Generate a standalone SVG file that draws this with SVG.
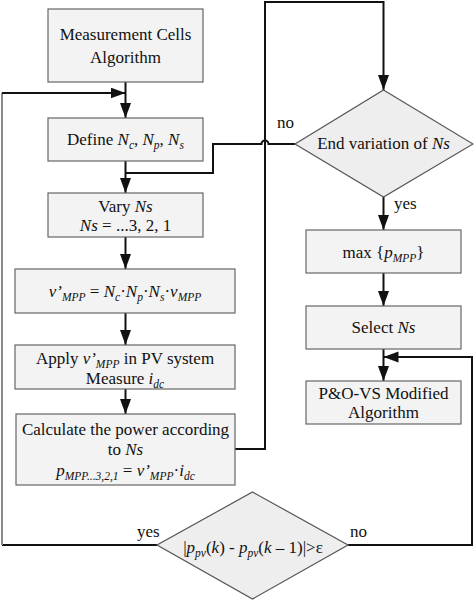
<svg xmlns="http://www.w3.org/2000/svg" width="474" height="602" viewBox="0 0 474 602">
<style>
.box{fill:#f3f3f3;stroke:#666;stroke-width:1.2}
.dia{fill:#eeeeee;stroke:#555;stroke-width:1.2}
text{font-family:"Liberation Serif","Times New Roman",serif;font-size:17px;fill:#111}
.c{text-anchor:middle}
.i{font-style:italic}
.s{font-size:11.5px;font-style:italic}
.ln{fill:none;stroke:#111;stroke-width:2}
.lg{fill:none;stroke:#8a8a8a;stroke-width:2}
</style>
<defs>
<marker id="ar" markerUnits="userSpaceOnUse" markerWidth="16" markerHeight="12" refX="15" refY="5.5" orient="auto">
<path d="M0,0 L15,5.5 L0,11 Z" fill="#111"/>
</marker>
</defs>
<rect width="474" height="602" fill="#fff"/>
<g id="connectors">
<path class="ln" d="M125.5,82 V118" marker-end="url(#ar)"/>
<path class="ln" d="M157,545 H2"/>
<path class="lg" d="M2,545 V93"/>
<path class="ln" d="M2,93 H125.5" marker-end="url(#ar)"/>
<path class="ln" d="M125.5,161 V193" marker-end="url(#ar)"/>
<path class="ln" d="M295,144 H268.5 A3.5,3.5 0 0 0 261.5,144 H213 V173 H125.5"/>
<path class="ln" d="M125.5,237 V269" marker-end="url(#ar)"/>
<path class="ln" d="M125.5,313 V345" marker-end="url(#ar)"/>
<path class="ln" d="M125.5,389 V414" marker-end="url(#ar)"/>
<path class="ln" d="M235,449 H265 V2 H383.5 V90" marker-end="url(#ar)"/>
<path class="ln" d="M383.5,197 V230" marker-end="url(#ar)"/>
<path class="ln" d="M383.5,273 V306" marker-end="url(#ar)"/>
<path class="ln" d="M383.5,349 V381" marker-end="url(#ar)"/>
<path class="ln" d="M348,545 H472 V357 H383.5" marker-end="url(#ar)"/>
</g>
<g id="labels">
<text x="277" y="128">no</text>
<text x="394" y="209">yes</text>
<text x="137" y="537">yes</text>
<text x="350" y="537">no</text>
</g>
<g id="n1">
<rect class="box" x="48" y="9" width="155" height="73"/>
<text class="c" x="125.5" y="40">Measurement Cells</text>
<text class="c" x="125.5" y="63">Algorithm</text>
</g>
<g id="n2">
<rect class="box" x="48" y="118" width="155" height="43"/>
<text class="c" x="125.5" y="145">Define <tspan class="i">N</tspan><tspan class="s" dy="4">c</tspan><tspan dy="-4">, </tspan><tspan class="i">N</tspan><tspan class="s" dy="4">p</tspan><tspan dy="-4">, </tspan><tspan class="i">N</tspan><tspan class="s" dy="4">s</tspan></text>
</g>
<g id="n3">
<rect class="box" x="48" y="193" width="155" height="44"/>
<text class="c" x="125.5" y="212">Vary <tspan class="i">Ns</tspan></text>
<text class="c" x="125.5" y="231"><tspan class="i">Ns</tspan> = ...3, 2, 1</text>
</g>
<g id="n4">
<rect class="box" x="15" y="269" width="220" height="44"/>
<text class="c" x="125" y="297"><tspan class="i">v’</tspan><tspan class="s" dy="4">MPP</tspan><tspan dy="-4"> = </tspan><tspan class="i">N</tspan><tspan class="s" dy="4">c</tspan><tspan dy="-4">·</tspan><tspan class="i">N</tspan><tspan class="s" dy="4">p</tspan><tspan dy="-4">·</tspan><tspan class="i">N</tspan><tspan class="s" dy="4">s</tspan><tspan dy="-4">·</tspan><tspan class="i">v</tspan><tspan class="s" dy="4">MPP</tspan></text>
</g>
<g id="n5">
<rect class="box" x="15" y="345" width="220" height="44"/>
<text class="c" x="125" y="364">Apply <tspan class="i">v’</tspan><tspan class="s" dy="4">MPP</tspan><tspan dy="-4"> in PV system</tspan></text>
<text class="c" x="125" y="384">Measure <tspan class="i">i</tspan><tspan class="s" dy="4">dc</tspan></text>
</g>
<g id="n6">
<rect class="box" x="16" y="414" width="219" height="71"/>
<text class="c" x="125.5" y="435">Calculate the power according</text>
<text class="c" x="125.5" y="455">to <tspan class="i">Ns</tspan></text>
<text class="c" x="125.5" y="476"><tspan class="i">p</tspan><tspan class="s" dy="4">MPP...3,2,1</tspan><tspan dy="-4"> = </tspan><tspan class="i">v’</tspan><tspan class="s" dy="4">MPP</tspan><tspan dy="-4">·</tspan><tspan class="i">i</tspan><tspan class="s" dy="4">dc</tspan></text>
</g>
<g id="n7">
<polygon class="dia" points="383.5,90 473,144 383.5,197 295,144"/>
<text class="c" x="383.5" y="149">End variation of <tspan class="i">Ns</tspan></text>
</g>
<g id="n8">
<rect class="box" x="306" y="230" width="155" height="43"/>
<text class="c" x="383.5" y="258">max {<tspan class="i">p</tspan><tspan class="s" dy="4">MPP</tspan><tspan dy="-4">}</tspan></text>
</g>
<g id="n9">
<rect class="box" x="306" y="306" width="155" height="43"/>
<text class="c" x="383.5" y="333">Select <tspan class="i">Ns</tspan></text>
</g>
<g id="n10">
<rect class="box" x="306" y="381" width="155" height="43"/>
<text class="c" x="383.5" y="399">P&amp;O-VS Modified</text>
<text class="c" x="383.5" y="418">Algorithm</text>
</g>
<g id="n11">
<polygon class="dia" points="252.5,492 348,545 252.5,599 157,545"/>
<text class="c" x="253" y="553">|<tspan class="i">p</tspan><tspan class="s" dy="4">pv</tspan><tspan dy="-4">(</tspan><tspan class="i">k</tspan><tspan>) - </tspan><tspan class="i">p</tspan><tspan class="s" dy="4">pv</tspan><tspan dy="-4">(</tspan><tspan class="i">k</tspan><tspan> – 1)|&gt;ε</tspan></text>
</g>
</svg>
